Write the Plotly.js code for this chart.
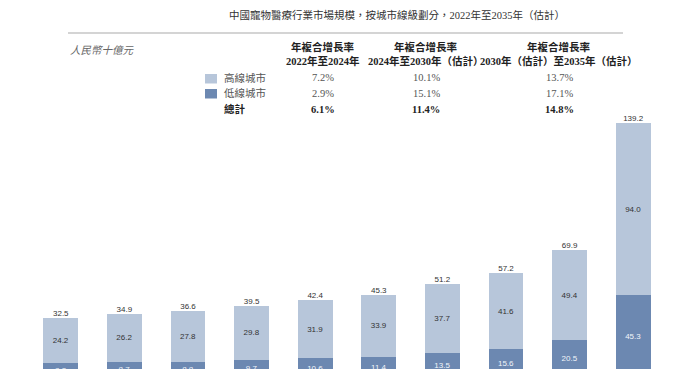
<!DOCTYPE html>
<html>
<head>
<meta charset="utf-8">
<script src="https://cdn.plot.ly/plotly-3.0.1.min.js"></script>
<style>html,body{margin:0;padding:0;background:#fff;}#chart{width:676px;height:369px;}</style>
</head>
<body>
<div id="chart"></div>
<script>
// ---- data ----
const years = ["2022","2023","2024","2025E","2026E","2027E","2028E","2029E","2030E","2035E"];
const tierHigh = [24.2, 26.2, 27.8, 29.8, 31.9, 33.9, 37.7, 41.6, 49.4, 94.0];
const tierLow  = [8.3, 8.7, 8.8, 9.7, 10.6, 11.4, 13.5, 15.6, 20.5, 45.3];
const totals   = [32.5, 34.9, 36.6, 39.5, 42.4, 45.3, 51.2, 57.2, 69.9, 139.2];
const seriesNames = ["高線城市", "低線城市", "總計"];
const cagrHeaders = ["2022年至2024年", "2024年至2030年（估計）", "2030年（估計）至2035年（估計）"];
const cagrHigh  = ["7.2%", "10.1%", "13.7%"];
const cagrLow   = ["2.9%", "15.1%", "17.1%"];
const cagrTotal = ["6.1%", "11.4%", "14.8%"];
const chartTitle = "中國寵物醫療行業市場規模，按城市線級劃分，2022年至2035年（估計）";
const unitLabel = "人民幣十億元";

// ---- layout helpers ----
const L = 29, R = 665, T = 100, B = 369;
const W = R - L, H = B - T;
const px = v => (v - L) / W;
const py = v => (B - v) / H;

const serif = "Liberation Serif, 'Noto Sans CJK TC', serif";
const sans = "Arial, 'Liberation Sans', sans-serif";
const cLight = "#b7c6da", cDark = "#6c88b1";

const traces = [
  {type:"bar", x: years, y: tierLow, name: seriesNames[1], marker:{color:cDark},
   text: tierLow.map(v=>v.toFixed(1)), textposition:"inside", insidetextanchor:"middle",
   textfont:{family:sans, size:8, color:"#f2f5fa"}, hoverinfo:"none", cliponaxis:true},
  {type:"bar", x: years, y: tierHigh, name: seriesNames[0], marker:{color:cLight},
   text: tierHigh.map(v=>v.toFixed(1)), textposition:"inside", insidetextanchor:"middle",
   textfont:{family:sans, size:8, color:"#333"}, hoverinfo:"none", cliponaxis:true},
  {type:"scatter", mode:"text", x: years, y: totals, text: totals.map(v=>v.toFixed(1)),
   textposition:"top center", textfont:{family:sans, size:8, color:"#333"},
   hoverinfo:"none", cliponaxis:false, showlegend:false}
];

const ann = [];
function A(text, x, y, opt) {
  ann.push(Object.assign({text, x: px(x), y: py(y), xref:"paper", yref:"paper",
    showarrow:false, xanchor:"center", yanchor:"middle",
    font:{family:serif, size:10.5, color:"#444"}}, opt || {}));
}
A(chartTitle, 397, 15, {font:{family:serif, size:10.5, color:"#333"}});
A("<i>"+unitLabel+"</i>", 68, 50, {xanchor:"left", font:{family:serif, size:10.5, color:"#666"}});
const colX = [323, 426, 559];
for (let i = 0; i < 3; i++) {
  A("<b>年複合增長率</b>", colX[i], 47, {font:{family:serif, size:10.5, color:"#222"}});
  A("<b>"+cagrHeaders[i]+"</b>", colX[i], 61, {font:{family:serif, size:10.5, color:"#222"}});
  A(cagrHigh[i], colX[i], 78, {font:{family:serif, size:10.5, color:"#555"}});
  A(cagrLow[i], colX[i], 93, {font:{family:serif, size:10.5, color:"#555"}});
  A("<b>"+cagrTotal[i]+"</b>", colX[i], 109, {font:{family:serif, size:10.5, color:"#222"}});
}
A(seriesNames[0], 222, 78, {xanchor:"left", font:{family:serif, size:10.5, color:"#555"}});
A(seriesNames[1], 222, 93, {xanchor:"left", font:{family:serif, size:10.5, color:"#555"}});
A("<b>"+seriesNames[2]+"</b>", 222, 109, {xanchor:"left", font:{family:serif, size:10.5, color:"#222"}});

const shapes = [
  {type:"line", xref:"paper", yref:"paper", x0:px(68), x1:px(623), y0:py(33), y1:py(33),
   line:{color:"#aaaaaa", width:1.2}},
  {type:"rect", xref:"paper", yref:"paper", x0:px(205), x1:px(217), y0:py(74), y1:py(83.5),
   fillcolor:cLight, line:{width:0}},
  {type:"rect", xref:"paper", yref:"paper", x0:px(205), x1:px(217), y0:py(89), y1:py(98.5),
   fillcolor:cDark, line:{width:0}}
];

// y scale: baseline ~377.7px, 1.827 px per unit
const yMin = (377.7 - B) / 1.827;
const yMax = yMin + H / 1.827;

const layout = {
  width:676, height:369,
  margin:{l:L, r:676-R, t:T, b:0, pad:0},
  paper_bgcolor:"#fff", plot_bgcolor:"#fff",
  barmode:"stack", bargap:0.45, showlegend:false,
  xaxis:{type:"category", range:[-0.5, 9.5], showgrid:false, zeroline:false,
         showticklabels:false, ticks:"", showline:false, fixedrange:true},
  yaxis:{range:[yMin, yMax], showgrid:false, zeroline:false, showticklabels:false,
         ticks:"", showline:false, fixedrange:true},
  annotations: ann, shapes: shapes,
  font:{family:serif}
};

Plotly.newPlot("chart", traces, layout, {displayModeBar:false, staticPlot:true});
</script>
</body>
</html>
